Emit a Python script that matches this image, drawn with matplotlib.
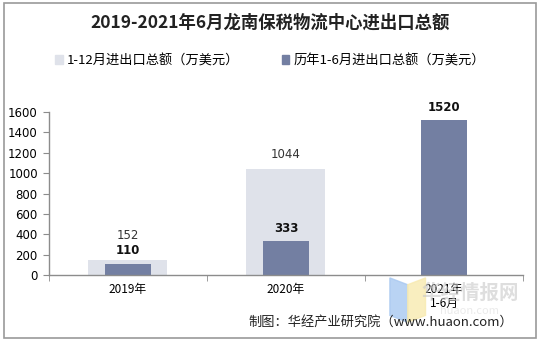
import matplotlib
matplotlib.use("Agg")
import matplotlib.pyplot as plt
from matplotlib.patches import Rectangle, Polygon, Patch
import numpy as np

plt.rcParams['font.family'] = ['Noto Sans CJK SC', 'DejaVu Sans']

categories = ["2019年", "2020年", "2021年\n1-6月"]
full_year = [152, 1044, np.nan]
half_year = [110, 333, 1520]
yticks = [0, 200, 400, 600, 800, 1000, 1200, 1400, 1600]
title = "2019-2021年6月龙南保税物流中心进出口总额"
legend_labels = ["1-12月进出口总额（万美元）", "历年1-6月进出口总额（万美元）"]
source = "制图：华经产业研究院（www.huaon.com）"

light = "#dfe2ea"
dark = "#737fa2"
axis_col = "#8c8c8c"

fig = plt.figure(figsize=(5.4, 3.41), dpi=100)
fig.patches.append(Rectangle((0.008, 0.008), 0.984, 0.984, transform=fig.transFigure,
                             fill=False, edgecolor="#9a9a9a", linewidth=1.2))
ax = fig.add_axes([0.0907, 0.1935, 0.8778, 0.478])

x = np.arange(len(categories))
ax.bar(x, full_year, width=0.5, color=light, zorder=1)
ax.bar(x, half_year, width=0.29, color=dark, zorder=2)

full_off = [24, 14, 14]
for xi, v, off in zip(x, full_year, full_off):
    if not np.isnan(v):
        ax.annotate(f"{v:g}", (xi, v), xytext=(0, off), textcoords="offset pixels",
                    ha="center", va="center", fontsize=8.5, color="#333333",
                    family=['DejaVu Sans'])
for xi, v in zip(x, half_year):
    ax.annotate(f"{v:g}", (xi, v), xytext=(0, 13), textcoords="offset pixels",
                ha="center", va="center", fontsize=8.5, fontweight="bold", color="#111111",
                family=['DejaVu Sans'])

ax.set_xlim(-0.5, len(categories) - 0.5)
ax.set_ylim(0, 1600)
ax.set_yticks(yticks)
ax.set_yticklabels([str(t) for t in yticks], fontsize=8.5, family=['DejaVu Sans'])
ax.set_xticks(x)
ax.set_xticklabels(categories, fontsize=8.5, linespacing=1.1)
ax.set_xticks(np.arange(len(categories) + 1) - 0.5, minor=True)
ax.tick_params(axis='x', which='major', length=0, pad=6)
ax.tick_params(axis='x', which='minor', length=4, color=axis_col, direction='out')
ax.tick_params(axis='y', length=4, color=axis_col, pad=4)
for s in ["top", "right"]:
    ax.spines[s].set_visible(False)
for s in ["left", "bottom"]:
    ax.spines[s].set_color(axis_col)
    ax.spines[s].set_linewidth(1)

fig.text(0.5, 0.935, title, ha="center", va="center", fontsize=12.5, fontweight="bold",
         color="#222222")

handles = [Patch(color=light), Patch(color=dark)]
fig.legend(handles, legend_labels, loc="center", bbox_to_anchor=(0.5, 0.822), ncol=2,
           frameon=False, fontsize=9.5, handlelength=0.6, handleheight=0.6,
           handletextpad=0.3, columnspacing=3.2)

# watermark icon + text
fig.patches.append(Polygon([[0.722, 0.185], [0.755, 0.165], [0.755, 0.055], [0.722, 0.075]],
                           closed=True, transform=fig.transFigure, color="#a8c8f0", alpha=0.8, zorder=0))
fig.patches.append(Polygon([[0.755, 0.165], [0.788, 0.185], [0.788, 0.075], [0.755, 0.055]],
                           closed=True, transform=fig.transFigure, color="#f8eab0", alpha=0.8, zorder=0))
fig.text(0.87, 0.14, "华经情报网", ha="center", va="center", fontsize=14, fontweight="bold",
         color="#c8c8c8", alpha=0.6)
fig.text(0.87, 0.088, "huaon.com", ha="center", va="center", fontsize=8,
         color="#dddddd", alpha=0.6)

fig.text(0.95, 0.055, source, ha="right", va="center", fontsize=9.5, color="#222222")

fig.savefig("out.png", dpi=100)
